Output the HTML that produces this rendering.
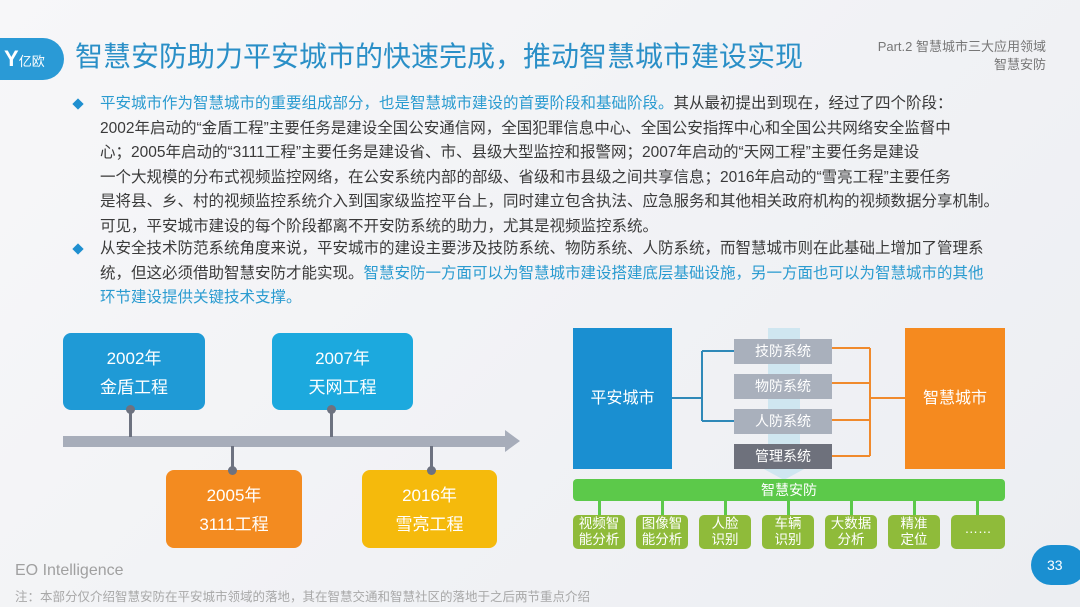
<!DOCTYPE html>
<html><head><meta charset="utf-8"><style>
*{margin:0;padding:0;box-sizing:border-box}
body{width:1080px;height:607px;overflow:hidden;background:linear-gradient(135deg,#f7f7f9,#eceef2);font-family:"Liberation Sans","Noto Sans CJK SC",sans-serif;position:relative}
.a{position:absolute}
.t{color:#3a3a3a;font-size:15.5px;line-height:24.5px;position:absolute;left:100px;white-space:nowrap;letter-spacing:0}
.b{color:#2a9bd0}
.dia{position:absolute;width:8px;height:8px;background:#1f8fd0;transform:rotate(45deg)}
.box{position:absolute;border-radius:8px;color:#fff;text-align:center;font-size:17px;line-height:29px;padding-top:11px}
.g{position:absolute;background:#a9b0bc;color:#fff;font-size:14px;text-align:center;line-height:25px;width:98px;left:734px;height:25px}
.s{position:absolute;top:515px;height:34px;width:52px;background:#8fbb3a;border-radius:5px;color:#fff;font-size:13.5px;line-height:16px;text-align:center;padding-top:1px}
.st{position:absolute;top:501px;height:14px;width:3px;background:#5cc94a}
</style></head><body>
<div class="a" style="left:0;top:38px;width:64px;height:42px;background:#2a9ad6;border-radius:0 21px 21px 0;color:#fff;font-size:13px;line-height:42px;padding-left:4px"><span style="font-size:22px;font-weight:bold">Y</span>亿欧</div>
<div class="a" style="left:75px;top:35px;font-size:28px;color:#2a8fc7;white-space:nowrap">智慧安防助力平安城市的快速完成，推动智慧城市建设实现</div>
<div class="a" style="right:34px;top:38px;font-size:13px;color:#777;text-align:right;line-height:18px">Part.2 智慧城市三大应用领域<br>智慧安防</div>

<div class="dia" style="left:74px;top:100px"></div>
<div class="t" style="top:92px"><span class="b">平安城市作为智慧城市的重要组成部分，也是智慧城市建设的首要阶段和基础阶段。</span>其从最初提出到现在，经过了四个阶段：<br>2002年启动的“金盾工程”主要任务是建设全国公安通信网，全国犯罪信息中心、全国公安指挥中心和全国公共网络安全监督中<br>心；2005年启动的“3111工程”主要任务是建设省、市、县级大型监控和报警网；2007年启动的“天网工程”主要任务是建设<br>一个大规模的分布式视频监控网络，在公安系统内部的部级、省级和市县级之间共享信息；2016年启动的“雪亮工程”主要任务<br>是将县、乡、村的视频监控系统介入到国家级监控平台上，同时建立包含执法、应急服务和其他相关政府机构的视频数据分享机制。<br>可见，平安城市建设的每个阶段都离不开安防系统的助力，尤其是视频监控系统。</div>
<div class="dia" style="left:74px;top:245px"></div>
<div class="t" style="top:237px">从安全技术防范系统角度来说，平安城市的建设主要涉及技防系统、物防系统、人防系统，而智慧城市则在此基础上增加了管理系<br>统，但这必须借助智慧安防才能实现。<span class="b">智慧安防一方面可以为智慧城市建设搭建底层基础设施，另一方面也可以为智慧城市的其他<br>环节建设提供关键技术支撑。</span></div>

<!-- timeline -->
<div class="a" style="left:63px;top:436px;width:445px;height:11px;background:#a7adba"></div>
<div class="a" style="left:505px;top:430px;width:0;height:0;border-left:15px solid #a7adba;border-top:11px solid transparent;border-bottom:11px solid transparent"></div>
<div class="box" style="left:63px;top:333px;width:142px;height:77px;background:#1f9ad6">2002年<br>金盾工程</div>
<div class="box" style="left:272px;top:333px;width:141px;height:77px;background:#1ca9de">2007年<br>天网工程</div>
<div class="box" style="left:166px;top:470px;width:136px;height:78px;background:#f38b20">2005年<br>3111工程</div>
<div class="box" style="left:362px;top:470px;width:135px;height:78px;background:#f5ba0c">2016年<br>雪亮工程</div>
<div class="a" style="left:129px;top:410px;width:3px;height:27px;background:#6d7280"></div>
<div class="a" style="left:126px;top:405px;width:9px;height:9px;border-radius:50%;background:#6d7280"></div>
<div class="a" style="left:330px;top:410px;width:3px;height:27px;background:#6d7280"></div>
<div class="a" style="left:327px;top:405px;width:9px;height:9px;border-radius:50%;background:#6d7280"></div>
<div class="a" style="left:231px;top:446px;width:3px;height:24px;background:#6d7280"></div>
<div class="a" style="left:228px;top:466px;width:9px;height:9px;border-radius:50%;background:#6d7280"></div>
<div class="a" style="left:430px;top:446px;width:3px;height:24px;background:#6d7280"></div>
<div class="a" style="left:427px;top:466px;width:9px;height:9px;border-radius:50%;background:#6d7280"></div>

<!-- right diagram -->
<div class="a" style="left:768px;top:328px;width:32px;height:140px;background:#cfe6f0"></div>
<div class="a" style="left:762px;top:468px;width:0;height:0;border-top:12px solid #cfe6f0;border-left:22px solid transparent;border-right:22px solid transparent"></div>
<div class="a" style="left:573px;top:328px;width:99px;height:141px;background:#1a8fd1;color:#fff;font-size:16px;text-align:center;line-height:141px">平安城市</div>
<div class="a" style="left:905px;top:328px;width:100px;height:141px;background:#f58a1f;color:#fff;font-size:16px;text-align:center;line-height:141px">智慧城市</div>
<svg class="a" style="left:0;top:0" width="1080" height="607">
<g stroke="#2f89b8" stroke-width="2" fill="none"><path d="M672 398H702M702 351V421M702 351H734M702 421H734"/></g>
<g stroke="#f08a2c" stroke-width="2" fill="none"><path d="M832 348H870M832 383H870M832 420H870M832 456H870M870 348V456M870 398H905"/></g>
</svg>
<div class="g" style="top:339px">技防系统</div>
<div class="g" style="top:374px">物防系统</div>
<div class="g" style="top:409px">人防系统</div>
<div class="g" style="top:444px;background:#6e717c">管理系统</div>
<div class="a" style="left:573px;top:479px;width:432px;height:22px;background:#5cc94a;border-radius:4px;color:#fff;font-size:14px;text-align:center;line-height:22px">智慧安防</div>
<div class="st" style="left:598px"></div><div class="st" style="left:661px"></div><div class="st" style="left:724px"></div><div class="st" style="left:787px"></div><div class="st" style="left:850px"></div><div class="st" style="left:913px"></div><div class="st" style="left:976px"></div>
<div class="s" style="left:573px">视频智<br>能分析</div>
<div class="s" style="left:636px">图像智<br>能分析</div>
<div class="s" style="left:699px">人脸<br>识别</div>
<div class="s" style="left:762px">车辆<br>识别</div>
<div class="s" style="left:825px">大数据<br>分析</div>
<div class="s" style="left:888px">精准<br>定位</div>
<div class="s" style="left:951px;width:54px;line-height:26px">……</div>

<div class="a" style="left:15px;top:562px;font-size:16px;color:#a0a0a0">EO Intelligence</div>
<div class="a" style="left:15px;top:586px;font-size:12.5px;color:#a8a8a8">注：本部分仅介绍智慧安防在平安城市领域的落地，其在智慧交通和智慧社区的落地于之后两节重点介绍</div>
<div class="a" style="left:1031px;top:545px;width:55px;height:40px;border-radius:20px;background:#1a8fd1;color:#fff;font-size:14px;line-height:40px;padding-left:16px">33</div>
</body></html>
